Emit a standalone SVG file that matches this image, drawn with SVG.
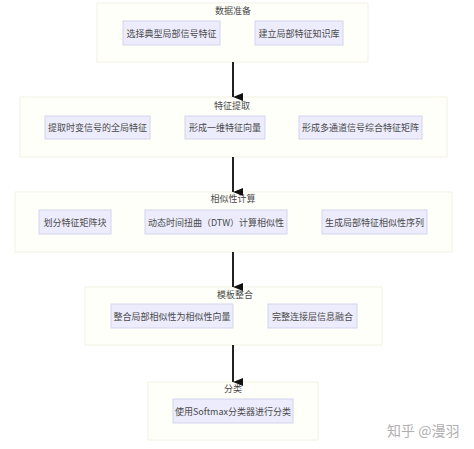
<svg xmlns="http://www.w3.org/2000/svg" width="474" height="449" viewBox="0 0 474 449">
<style>
.cl{fill:#fffffa;stroke:#f1f1e2;stroke-width:1}
.nd{fill:#ececfc;stroke:#d4d4ee;stroke-width:1}
.t{font-family:"Noto Sans CJK SC","Liberation Sans",sans-serif;font-size:9px;fill:#4a4a4a;text-anchor:middle;dominant-baseline:central}
.e{stroke:#222;stroke-width:2;fill:none}
.wm{font-family:"Noto Sans CJK SC","Liberation Sans",sans-serif;font-size:14px;fill:#b0b0b0;dominant-baseline:central}
</style>
<defs>
<marker id="ah" markerWidth="8" markerHeight="10" refX="4" refY="10" orient="auto-start-reverse" markerUnits="userSpaceOnUse" viewBox="0 0 8 10">
<path d="M0,0 L8,0 L4,10 Z" fill="#111"/>
</marker>
</defs>
<rect width="474" height="449" fill="#ffffff"/>
<g id="c1">
<rect class="cl" x="97" y="3" width="271" height="59"/>
<text class="t" x="233" y="10">数据准备</text>
</g>
<g id="c2">
<rect class="cl" x="20" y="97" width="427" height="60"/>
<text class="t" x="232" y="105">特征提取</text>
</g>
<g id="c3">
<rect class="cl" x="15" y="192" width="437" height="60"/>
<text class="t" x="233" y="198">相似性计算</text>
</g>
<g id="c4">
<rect class="cl" x="85" y="287" width="297" height="58"/>
<text class="t" x="235" y="294">模板整合</text>
</g>
<g id="c5">
<rect class="cl" x="148" y="382" width="170" height="58"/>
<text class="t" x="233" y="388">分类</text>
</g>
<g id="n1a"><rect class="nd" x="123" y="21" width="97" height="24"/><text class="t" x="171.5" y="33">选择典型局部信号特征</text></g>
<g id="n1b"><rect class="nd" x="255" y="21" width="88" height="24"/><text class="t" x="299" y="33">建立局部特征知识库</text></g>
<g id="n2a"><rect class="nd" x="45" y="116" width="105" height="23"/><text class="t" x="97.5" y="127.5">提取时变信号的全局特征</text></g>
<g id="n2b"><rect class="nd" x="185" y="116" width="80" height="23"/><text class="t" x="225" y="127.5">形成一维特征向量</text></g>
<g id="n2c"><rect class="nd" x="299" y="116" width="123" height="23"/><text class="t" x="360.5" y="127.5">形成多通道信号综合特征矩阵</text></g>
<g id="n3a"><rect class="nd" x="39" y="210" width="72" height="24"/><text class="t" x="75" y="222">划分特征矩阵块</text></g>
<g id="n3b"><rect class="nd" x="145" y="210" width="142" height="24"/><text class="t" x="216" y="222">动态时间扭曲（DTW）计算相似性</text></g>
<g id="n3c"><rect class="nd" x="322" y="210" width="105" height="24"/><text class="t" x="374.5" y="222">生成局部特征相似性序列</text></g>
<g id="n4a"><rect class="nd" x="111" y="304" width="122" height="24"/><text class="t" x="172" y="316">整合局部相似性为相似性向量</text></g>
<g id="n4b"><rect class="nd" x="268" y="304" width="89" height="24"/><text class="t" x="312.5" y="316">完整连接层信息融合</text></g>
<g id="n5"><rect class="nd" x="173" y="399" width="120" height="24"/><text class="t" x="233" y="411">使用Softmax分类器进行分类</text></g>
<g id="edges">
<line class="e" x1="233" y1="62" x2="233" y2="97" marker-end="url(#ah)"/>
<line class="e" x1="233" y1="157" x2="233" y2="192" marker-end="url(#ah)"/>
<line class="e" x1="233" y1="252" x2="233" y2="287" marker-end="url(#ah)"/>
<line class="e" x1="233" y1="345" x2="233" y2="382" marker-end="url(#ah)"/>
</g>
<text class="wm" x="387" y="430">知乎 @漫羽</text>
</svg>
